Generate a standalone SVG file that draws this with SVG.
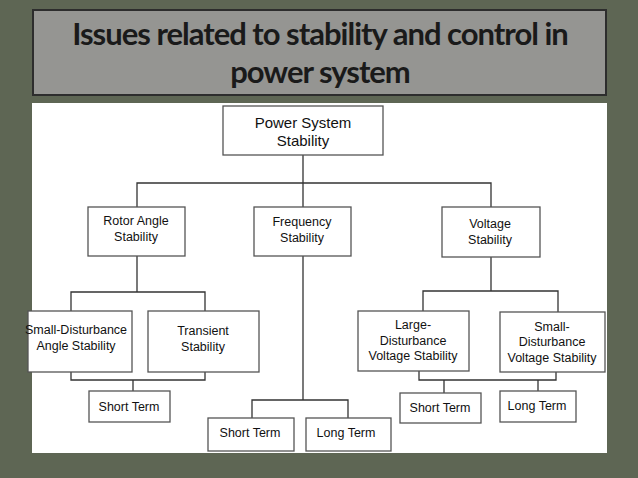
<svg xmlns="http://www.w3.org/2000/svg" width="638" height="478" viewBox="0 0 638 478">
<style>
.n rect{fill:#fff;stroke:#555;stroke-width:1.3}
.n text{font-family:"Liberation Sans",Arial,sans-serif;font-size:12.5px;fill:#111;text-anchor:middle}
#c path{fill:none;stroke:#333;stroke-width:1.3}
.t{font-family:"Lato","Liberation Sans",sans-serif;font-weight:bold;font-size:31px;fill:#1a1a1a;text-anchor:middle;letter-spacing:-1px}
</style>
<rect width="638" height="478" fill="#5e6654"/>
<rect x="33" y="10" width="573" height="85" fill="#959592" stroke="#2d2d2d" stroke-width="2"/>
<text class="t" x="320" y="45">Issues related to stability and control in</text>
<text class="t" x="320" y="83">power system</text>
<rect x="32" y="103" width="575" height="350" fill="#fff"/>
<g id="c">
<path d="M303 155V183M137 207V183H491V207M303 183V256"/>
<path d="M137 256V292M71 311V292H205V311"/>
<path d="M71 372V380H205V372M133 380V391"/>
<path d="M303 256V400M252 418V400H348V418"/>
<path d="M491 257V291M423 311V291H558V312"/>
<path d="M419 371V380H556V372M444 380V393M538 380V391"/>
</g>
<g id="pss" class="n"><rect x="223" y="106" width="160" height="49"/><text x="303" y="128" style="font-size:15px">Power System</text><text x="303" y="146" style="font-size:15px">Stability</text></g>
<g id="ras" class="n"><rect x="88" y="207" width="97" height="49"/><text x="136" y="225">Rotor Angle</text><text x="136" y="241">Stability</text></g>
<g id="fs" class="n"><rect x="254" y="207" width="97" height="49"/><text x="302" y="226">Frequency</text><text x="302" y="242">Stability</text></g>
<g id="vs" class="n"><rect x="442" y="207" width="98" height="50"/><text x="490" y="228">Voltage</text><text x="490" y="244">Stability</text></g>
<g id="sdas" class="n"><rect x="28" y="311" width="104" height="61"/><text x="76" y="334">Small-Disturbance</text><text x="76" y="350">Angle Stability</text></g>
<g id="ts" class="n"><rect x="148" y="311" width="111" height="61"/><text x="203" y="335">Transient</text><text x="203" y="351">Stability</text></g>
<g id="st1" class="n"><rect x="89" y="391" width="81" height="31"/><text x="129" y="411">Short Term</text></g>
<g id="st2" class="n"><rect x="208" y="418" width="86" height="33"/><text x="250" y="437">Short Term</text></g>
<g id="lt2" class="n"><rect x="306" y="418" width="85" height="33"/><text x="346" y="437">Long  Term</text></g>
<g id="ldvs" class="n"><rect x="358" y="311" width="111" height="60"/><text x="413" y="329">Large-</text><text x="413" y="345">Disturbance</text><text x="413" y="360">Voltage Stability</text></g>
<g id="sdvs" class="n"><rect x="500" y="312" width="105" height="60"/><text x="552" y="331">Small-</text><text x="552" y="346">Disturbance</text><text x="552" y="362">Voltage Stability</text></g>
<g id="st3" class="n"><rect x="400" y="393" width="81" height="30"/><text x="440" y="412">Short Term</text></g>
<g id="lt3" class="n"><rect x="500" y="391" width="76" height="31"/><text x="537" y="410">Long Term</text></g>
</svg>
